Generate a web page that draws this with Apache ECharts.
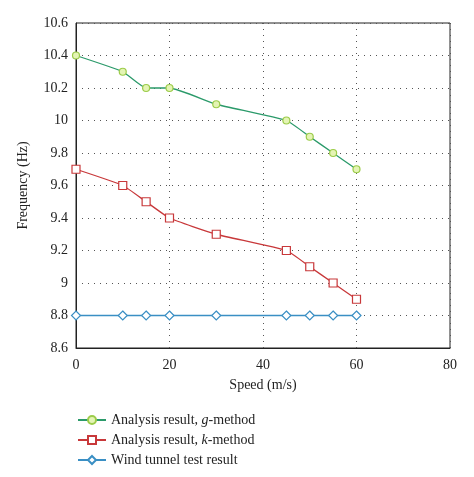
<!DOCTYPE html>
<html><head><meta charset="utf-8">
<script src="https://cdn.jsdelivr.net/npm/echarts@6/dist/echarts.min.js"></script>
<style>html,body{margin:0;padding:0;background:#fff}#c{width:474px;height:477px}</style>
</head><body><div id="c"></div>
<script>
const speeds = [0, 10, 15, 20, 30, 45, 50, 55, 60];
const gMethod = [10.4, 10.3, 10.2, 10.2, 10.1, 10.0, 9.9, 9.8, 9.7];
const kMethod = [9.7, 9.6, 9.5, 9.4, 9.3, 9.2, 9.1, 9.0, 8.9];
const windTunnel = [8.8, 8.8, 8.8, 8.8, 8.8, 8.8, 8.8, 8.8, 8.8];
const names = ['Analysis result, g-method', 'Analysis result, k-method', 'Wind tunnel test result'];
const F = 'Liberation Serif';
const pair = (ys) => speeds.map((x, i) => [x, ys[i]]);
const chart = echarts.init(document.getElementById('c'));
chart.setOption({
  animation: false,
  grid: { left: 76, right: 24, top: 23, bottom: 129, show: true, borderColor: '#222', borderWidth: 1 },
  xAxis: { type: 'value', min: 0, max: 80, interval: 20,
    name: 'Speed (m/s)', nameLocation: 'middle', nameGap: 30,
    nameTextStyle: { fontFamily: F, fontSize: 14, color: '#222' },
    axisLine: { lineStyle: { color: '#222' } }, axisTick: { show: false },
    axisLabel: { fontFamily: F, fontSize: 14, color: '#222', margin: 10 },
    splitLine: { show: true, lineStyle: { type: [1, 5], color: '#555' } } },
  yAxis: { type: 'value', min: 8.6, max: 10.6, interval: 0.2,
    name: 'Frequency (Hz)', nameLocation: 'middle', nameGap: 46,
    nameTextStyle: { fontFamily: F, fontSize: 14, color: '#222' },
    axisLine: { show: true, lineStyle: { color: '#222' } }, axisTick: { show: false },
    axisLabel: { fontFamily: F, fontSize: 14, color: '#222', margin: 8,
      formatter: v => String(Math.round(v * 10) / 10) },
    splitLine: { show: true, lineStyle: { type: [1, 5], color: '#555' } } },
  legend: { orient: 'vertical', left: 72, top: 408, itemWidth: 28, itemHeight: 10, itemGap: 6,
    data: names,
    formatter: n => n.replace('g-method', '{i|g}-method').replace('k-method', '{i|k}-method'),
    textStyle: { fontFamily: F, fontSize: 14, color: '#222',
      rich: { i: { fontFamily: F, fontSize: 14, fontStyle: 'italic', color: '#222' } } } },
  series: [
    { name: names[0], type: 'line', data: pair(gMethod), smooth: 0.15, symbol: 'circle', symbolSize: 7,
      lineStyle: { color: '#2b9a6a', width: 1.3 },
      itemStyle: { color: '#e4f4b4', borderColor: '#9ccc4a', borderWidth: 1.2 } },
    { name: names[1], type: 'line', data: pair(kMethod), smooth: 0.15, symbol: 'rect', symbolSize: 8,
      lineStyle: { color: '#c8383a', width: 1.3 },
      itemStyle: { color: '#fff', borderColor: '#c8383a', borderWidth: 1.2 } },
    { name: names[2], type: 'line', data: pair(windTunnel), symbol: 'diamond', symbolSize: 9,
      lineStyle: { color: '#3a8fc4', width: 1.3 },
      itemStyle: { color: '#fff', borderColor: '#3a8fc4', borderWidth: 1.2 } }
  ]
});
</script></body></html>
